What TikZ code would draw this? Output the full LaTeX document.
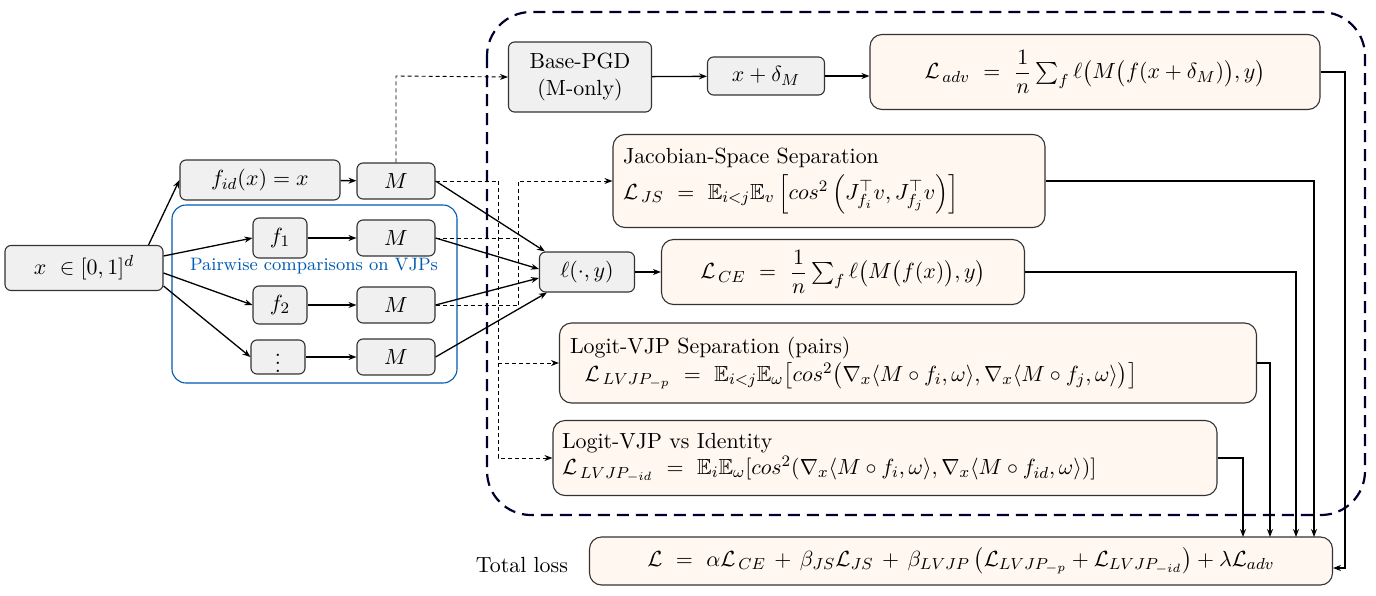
\documentclass[tikz,border=0pt]{standalone}
\usepackage{amsmath,amssymb}
\usetikzlibrary{arrows.meta,calc}
\begin{document}
\begin{tikzpicture}[x=0.5pt,y=-0.5pt,
  box/.style={draw=black!80,line width=0.55pt,rounded corners=3pt,fill=gray!12,inner sep=0pt,font=\fontsize{10.95}{13}\selectfont},
  lbox/.style={draw=black!80,line width=0.55pt,rounded corners=6pt,fill=red!5!orange!6,inner sep=0pt,font=\fontsize{10.95}{13}\selectfont},
  arr/.style={-{Stealth[length=4pt,width=3pt]},line width=0.65pt},
  darr/.style={-{Stealth[length=4pt,width=3pt]},line width=0.45pt,dash pattern=on 2pt off 1.5pt},
  dln/.style={line width=0.45pt,dash pattern=on 2pt off 1.5pt}]
\useasboundingbox (0,0) rectangle (1376,595);
\draw[line width=1.1pt,color=black!70!blue!60!black,dash pattern=on 6pt off 3.5pt,rounded corners=22pt] (487,12) rectangle (1365,515);
\draw[color=blue!50!cyan!70!black,line width=0.55pt,rounded corners=7pt] (172,205) rectangle (457,383);
\node[color=blue!50!cyan!70!black,font=\fontsize{9}{10}\selectfont] (pw) at (314,266) {Pairwise comparisons on VJPs};
\node[box,minimum width=79pt,minimum height=22.5pt] (x) at (84,268) {$x\ \in[0,1]^d$};
\node[box,minimum width=80pt,minimum height=20pt] (fid) at (260,180) {$f_{id}(x)=x$};
\node[box,minimum width=39pt,minimum height=18pt] (M0) at (396,181) {$M$};
\node[box,minimum width=27pt,minimum height=20pt] (f1) at (280,238) {$f_1$};
\node[box,minimum width=39pt,minimum height=18pt] (M1) at (396,238) {$M$};
\node[box,minimum width=27pt,minimum height=19pt] (f2) at (280,305) {$f_2$};
\node[box,minimum width=39pt,minimum height=18pt] (M2) at (396,305) {$M$};
\node[box,minimum width=27pt,minimum height=17pt] (f3) at (278,357) {$\vdots$};
\node[box,minimum width=39pt,minimum height=18pt] (M3) at (396,357) {$M$};
\node[box,minimum width=47.5pt,minimum height=20pt] (ell) at (587,272) {$\ell(\cdot,y)$};
\node[box,minimum width=71.5pt,minimum height=35pt,align=center,font=\fontsize{10.95}{13.5}\selectfont] (pgd) at (580,77) {Base-PGD\\(M-only)};
\node[box,minimum width=58.5pt,minimum height=19pt] (xd) at (766,76) {$x+\delta_M$};
\node[lbox,minimum width=225pt,minimum height=37.5pt] (adv) at (1095,72) {$\mathcal{L}_{\,adv}\ =\ \dfrac{1}{n}\sum\nolimits_f \ell\big(M\big(f(x+\delta_M)\big),y\big)$};
\node[lbox,minimum width=216pt,minimum height=46.5pt,align=left,text width=206pt] (js) at (829,181) {Jacobian-Space Separation\\[2pt]$\mathcal{L}_{\,JS}\ =\ \mathbb{E}_{i<j}\mathbb{E}_v\left[cos^2\left(J_{f_i}^{\top}v,J_{f_j}^{\top}v\right)\right]$};
\node[lbox,minimum width=181.5pt,minimum height=32.5pt] (ce) at (843,272) {$\mathcal{L}_{\,CE}\ =\ \dfrac{1}{n}\sum\nolimits_f \ell\big(M\big(f(x)\big),y\big)$};
\node[lbox,minimum width=348.5pt,minimum height=40pt,align=left,text width=338pt] (lp) at (908,363) {Logit-VJP Separation (pairs)\\[1pt]\ \ $\mathcal{L}_{\,LVJP_{-p}}\ =\ \mathbb{E}_{i<j}\mathbb{E}_\omega\big[cos^2\big(\nabla_x\langle M\circ f_i,\omega\rangle,\nabla_x\langle M\circ f_j,\omega\rangle\big)\big]$};
\node[lbox,minimum width=332pt,minimum height=37.5pt,align=left,text width=323pt] (li) at (885,458) {Logit-VJP vs Identity\\$\mathcal{L}_{\,LVJP_{-id}}\ =\ \mathbb{E}_i\mathbb{E}_\omega[cos^2(\nabla_x\langle M\circ f_i,\omega\rangle,\nabla_x\langle M\circ f_{id},\omega\rangle)]$};
\node[lbox,minimum width=371.5pt,minimum height=24pt] (tot) at (961,561) {$\mathcal{L}\ =\ \alpha\mathcal{L}_{\,CE}\,+\,\beta_{JS}\mathcal{L}_{JS}\,+\,\beta_{LVJP}\left(\mathcal{L}_{LVJP_{-p}}+\mathcal{L}_{LVJP_{-id}}\right)+\lambda\mathcal{L}_{adv}$};
\node[anchor=east,font=\fontsize{10.95}{13}\selectfont] (tl) at (575,565) {Total loss};
\draw[arr] ($(x.north east)+(-15,0)$) -- (fid.west);
\draw[arr] ($(x.east)+(0,-12)$) -- (f1.west);
\draw[arr] ($(x.east)+(0,5)$) -- (f2.west);
\draw[arr] ($(x.east)+(0,18)$) -- (f3.west);
\draw[arr] (fid) -- (M0);
\draw[arr] (f1) -- (M1);
\draw[arr] (f2) -- (M2);
\draw[arr] (f3) -- (M3);
\draw[arr] (M0.east) -- ($(ell.north west)+(6,0)$);
\draw[arr] (M1.east) -- ($(ell.west)+(0,-3)$);
\draw[arr] (M2.east) -- ($(ell.west)+(0,6)$);
\draw[arr] (M3.east) -- ($(ell.south west)+(8,0)$);
\draw[arr] (ell) -- (ce);
\draw[arr] (pgd) -- (xd);
\draw[arr] (xd) -- (xd -| adv.west);
\draw[darr] (M0.north) -- (396,76) -- (pgd.west);
\draw[dln] (M0.east) -- (498,181);
\draw[darr] (498,181) |- (li.west);
\draw[darr] (498,363) -- (lp.west);
\draw[dln] (M1.east) -- (518,238);
\draw[dln] (M2.east) -- (518,305);
\draw[darr] (518,305) |- (js.west);
\draw[arr] (li.east) -| (1243,537);
\draw[arr] (lp.east) -| (1270,537);
\draw[arr] (ce.east) -| (1296,537);
\draw[arr] (js.east) -| (1314,537);
\draw[arr] (adv.east) -| (1345,568) -- (1333,568);
\end{tikzpicture}
\end{document}
